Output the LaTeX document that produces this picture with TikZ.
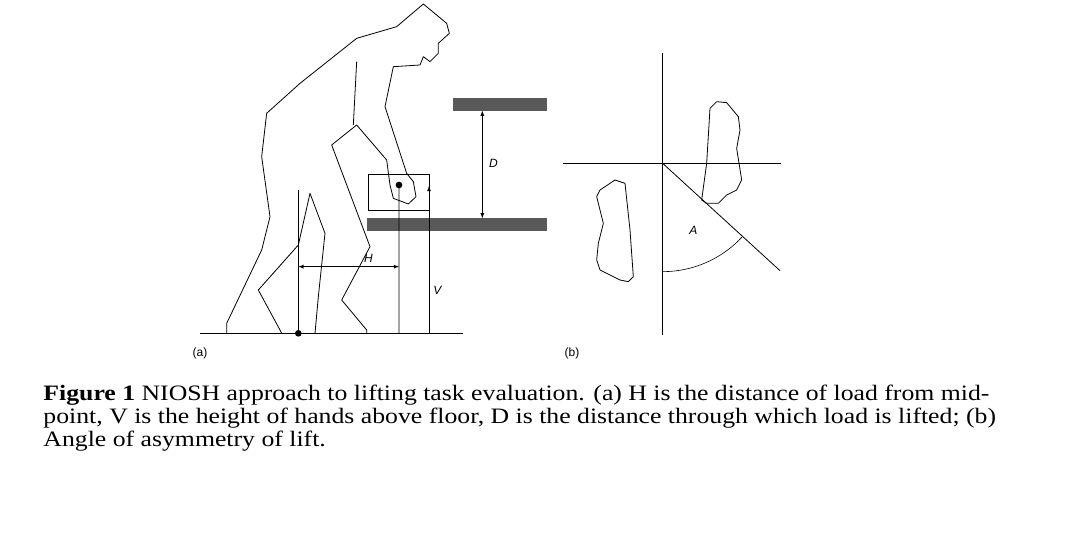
\documentclass[tikz,border=0pt]{standalone}
\usepackage{fontspec}
\setmainfont{Liberation Serif}
\setsansfont{Liberation Sans}
\begin{document}
\begin{tikzpicture}[x=1pt,y=-1pt,line width=0.8pt,
  shelf/.style={fill=black!65,draw=none},
  lab/.style={font=\sffamily\itshape\fontsize{12}{12}\selectfont,inner sep=1pt},
  plab/.style={font=\sffamily\fontsize{12}{12}\selectfont,inner sep=1pt},
  dim/.style={line width=0.8pt,-latex}]
\useasboundingbox (0,0) rectangle (1071,533);
% figure (a)
\begin{scope}[shift={(190,0)},scale=1/3]
\draw (30,1000) -- (820,1000);
\draw[line join=round] (275,1000)--(270,990)--(205,870)--(325,735)--(360,580)--(405,700)--(385,890)--(375,1000)
 (530,1000)--(530,990)--(455,900)--(540,740)--(425,435)--(500,375)--(590,480)--(600,555)--(610,595)--(655,612)--(678,590)--(670,545)--(650,520)--(585,320)--(610,200)--(690,195)--(700,170)--(720,185)--(745,160)--(745,130)--(778,100)--(770,70)--(700,12)--(620,80)--(500,115)--(330,250)--(230,340)--(215,470)--(240,650)--(215,750)--(110,970)--(110,1000);
\draw (500,185)--(490,375);
\draw (535,522) rectangle (717,632);
\fill[shelf] (790,295) rectangle (1072,332);
\fill[shelf] (532,655) rectangle (1072,692);
\coordinate (dt) at (877,332); \coordinate (db) at (877,655);
\draw[dim,latex-latex] (dt) -- (db);
\node[lab] (D) at (910,490) {D};
\coordinate (hand) at (627,555);
\fill (hand) circle[radius=10];
\draw (hand) -- (627,1000);
\coordinate (vb) at (717,1000); \coordinate (vt) at (717,558);
\draw[dim] (vb) -- (vt);
\node[lab] (V) at (742,872) {V};
\coordinate (ft) at (325,570); \coordinate (fb) at (325,1000);
\draw (ft) -- (fb);
\fill (fb) circle[radius=10];
\draw[dim,latex-latex] (325,800) -- (627,800);
\node[lab] (H) at (535,775) {H};
\end{scope}
\node[plab] (pa) at (200,353) {(a)};
% figure (b)
\begin{scope}[shift={(550,30)},scale=1/3]
\coordinate (o) at (338,400);
\draw (338,70) -- (338,915);
\draw (38,400) -- (692,400);
\draw (o) -- (690,722);
\draw[line width=0.6pt] (338,725) arc[start angle=90,end angle=42.4,radius=325];
\node[lab] (A) at (430,600) {A};
\draw[line join=round] (150,480)--(195,450)--(225,460)--(240,600)--(250,740)--(235,755)--(210,750)--(150,720)--(140,690)--(145,640)--(160,580)--(150,540)--(140,500)--cycle;
\draw[line join=round] (480,235)--(500,215)--(530,218)--(565,260)--(570,300)--(560,355)--(575,450)--(560,480)--(530,495)--(505,520)--(470,520)--(455,510)--(470,400)--cycle;
\end{scope}
\node[plab] (pb) at (572,353) {(b)};
% caption
\node[anchor=north west,align=left,inner sep=0pt,xscale=1.17,font=\fontsize{22}{23}\selectfont] (cap) at (43,385)
{\textbf{Figure 1} NIOSH approach to lifting task evaluation. (a) H is the distance of load from mid-\\
point, V is the height of hands above floor, D is the distance through which load is lifted; (b)\\
Angle of asymmetry of lift.};
\end{tikzpicture}
\end{document}
